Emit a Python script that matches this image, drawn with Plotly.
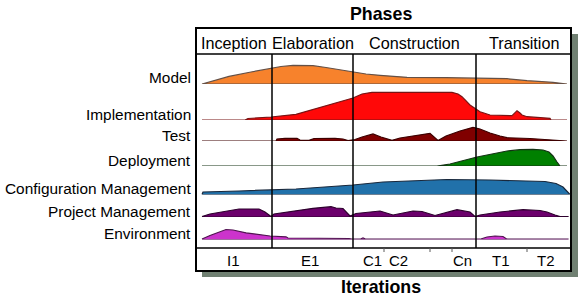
import plotly.graph_objects as go

# ---------------- data ----------------
disciplines = ["Model", "Implementation", "Test", "Deployment",
               "Configuration Management", "Project Management", "Environment"]
phases = ["Inception", "Elaboration", "Construction", "Transition"]
phase_bounds = [0, 76, 157, 280, 375]
iterations = ["I1", "E1", "C1", "C2", "Cn", "T1", "T2"]
iteration_t = [37, 114, 176, 202, 266, 305, 350]
iteration_marks = [188, 234, 256, 331]

model_t = [6, 20, 33, 55, 75, 85, 97, 117, 130, 143, 157, 170, 184, 211, 250, 281, 311, 331, 345, 357, 371]
model_h = [0, 4, 7.6, 12, 16, 17.5, 18.6, 18.3, 16.5, 14.3, 12, 10, 8.7, 6.7, 6.3, 6, 5.3, 3.3, 2.5, 1.7, 0]

impl_t = [6, 49, 52, 75, 100, 157, 166, 176, 256, 262, 266, 274, 284, 294, 316, 319, 321, 324, 326, 331, 354, 355, 371]
impl_h = [0, 0, 1.5, 3, 5.7, 22, 26, 27.7, 27.7, 26, 23.3, 15, 8.3, 5, 4.3, 8, 9.3, 7, 5, 3.3, 1.7, 0, 0]

test_t = [6, 80, 81, 89, 101, 104, 113, 118, 139, 147, 152, 159, 166, 177, 185, 192, 196, 204, 219, 234, 242,
          250, 264, 277, 284, 294, 304, 311, 334, 359, 369, 371]
test_h = [0, 0, 2, 2.7, 2.7, 1, 0.7, 2.5, 2.7, 2, 0.5, 1.5, 4, 7, 4, 1.5, 0.7, 3, 5, 7.7, 0.5,
          5, 10, 13.7, 12, 8, 5, 3.3, 2.5, 1.2, 0.5, 0]

deploy_t = [6, 241, 254, 281, 311, 324, 337, 347, 353, 357, 361, 364, 371]
deploy_h = [0, 0, 2, 9, 15, 16.3, 16.7, 16, 14, 10, 4, 0, 0]

config_t = [6, 7, 43, 100, 157, 187, 251, 294, 349, 360, 367, 372, 374]
config_h = [0, 2.5, 3.5, 5.5, 9.5, 12.5, 15, 14.5, 13, 11, 7.5, 2, 0]

pm_t = [6, 14, 43, 63, 69, 75, 78, 117, 135, 140, 147, 154, 160, 184, 197, 217, 226, 239, 261, 274, 279,
        284, 304, 327, 344, 351, 359, 364, 372]
pm_h = [0.5, 3, 8, 8, 5, 0.5, 3, 8.7, 10.3, 9, 8.5, 1, 3.5, 6, 2, 6, 5.5, 1.5, 7.3, 5, 0.5,
        2, 5, 7.3, 6.5, 5, 2, 0.5, 0.5]

env_t = [6, 14, 30, 37, 50, 74, 90, 92, 153, 156, 164, 167, 170, 284, 291, 299, 307, 311, 372]
env_h = [0.5, 4, 10, 9.5, 6.7, 3.5, 2.7, 1.5, 1, 0.3, 0.3, 1.5, 0.3, 0.3, 2.5, 3.5, 3, 0.3, 0.3]

profiles_t = [model_t, impl_t, test_t, deploy_t, config_t, pm_t, env_t]
profiles_h = [model_h, impl_h, test_h, deploy_h, config_h, pm_h, env_h]

# ---------------- styles / layout ----------------
fills = ["rgb(247,130,44)", "rgb(255,8,8)", "rgb(128,0,0)", "rgb(0,128,0)",
         "rgb(33,113,170)", "rgb(108,0,108)", "rgb(204,51,204)"]
outlines = ["rgb(100,80,70)", "rgb(120,20,20)", "rgb(60,0,0)", "rgb(20,50,20)",
            "rgb(25,40,60)", "rgb(45,0,45)", "rgb(80,20,80)"]

W, H = 580, 299
L, R, T, B = 196, 9, 28, 28
PH = H - T - B  # plot height in px
baselines_px = [84, 120, 141, 166, 194.5, 217, 239.5]
heights_px = [20, 30, 15, 18, 17, 12, 11]


def py(px):
    return (H - B - px) / PH


def pxx(px):
    return (px - L) / (W - L - R)


FONT = "Liberation Sans, Arial, sans-serif"

fig = go.Figure()
layout_axes = {}
for i, (name, t, h) in enumerate(zip(disciplines, profiles_t, profiles_h)):
    ax = "" if i == 0 else str(i + 1)
    xs = list(t) + list(t)[::-1]
    ys = list(h) + [0] * len(h)
    fig.add_trace(go.Scatter(
        x=xs, y=ys, mode="lines", fill="toself", fillcolor=fills[i],
        line=dict(color=outlines[i], width=1.2), name=name,
        xaxis="x", yaxis="y" + ax, hoverinfo="skip", showlegend=False))
    b = baselines_px[i]
    layout_axes["yaxis" + ax] = dict(
        domain=[py(b), py(b - heights_px[i])], range=[0, heights_px[i]],
        anchor="x", visible=False, fixedrange=True)
    fig.add_annotation(text=name, x=-0.008, xref="paper", xanchor="right",
                       y=py(b - 6), yref="paper", yanchor="middle", showarrow=False,
                       font=dict(family=FONT, size=15.4, color="black"))

shapes = []
# shadow
shapes.append(dict(type="rect", xref="paper", yref="paper",
                   x0=pxx(L + 6), x1=pxx(W - R + 7), y0=py(H - B + 6), y1=py(T + 6),
                   fillcolor="rgb(112,128,114)", line=dict(width=0), layer="below"))
# box
shapes.append(dict(type="rect", xref="paper", yref="paper", x0=0, x1=1, y0=0, y1=1,
                   fillcolor="white", line=dict(color="black", width=2), layer="below"))
# header and iteration row lines
for ypx in (54, 248):
    shapes.append(dict(type="line", xref="paper", yref="paper", x0=0, x1=1,
                       y0=py(ypx), y1=py(ypx), line=dict(color="black", width=1.5)))
# phase separators
for pb in phase_bounds[1:-1]:
    shapes.append(dict(type="line", xref="x", yref="paper", x0=pb, x1=pb,
                       y0=py(248), y1=py(54), line=dict(color="black", width=1.5)))
# small iteration marks
for m in iteration_marks:
    shapes.append(dict(type="line", xref="x", yref="paper", x0=m, x1=m,
                       y0=py(252), y1=py(248), line=dict(color="rgb(90,90,90)", width=1)))

# phase labels
for i, p in enumerate(phases):
    fig.add_annotation(text=p, x=(phase_bounds[i] + phase_bounds[i + 1]) / 2, xref="x",
                       y=py(43), yref="paper", showarrow=False, xanchor="center", yanchor="middle",
                       font=dict(family=FONT, size=16.2, color="black"))
# iteration labels
for it, tt in zip(iterations, iteration_t):
    fig.add_annotation(text=it, x=tt, xref="x", y=py(260), yref="paper", showarrow=False,
                       xanchor="center", yanchor="middle",
                       font=dict(family=FONT, size=15, color="black"))
# titles
fig.add_annotation(text="<b>Phases</b>", x=pxx(381), xref="paper", y=py(14), yref="paper",
                   showarrow=False, xanchor="center", yanchor="middle",
                   font=dict(family=FONT, size=17.8, color="black"))
fig.add_annotation(text="<b>Iterations</b>", x=pxx(381), xref="paper", y=py(287), yref="paper",
                   showarrow=False, xanchor="center", yanchor="middle",
                   font=dict(family=FONT, size=17.8, color="black"))

fig.update_layout(
    width=W, height=H, margin=dict(l=L, r=R, t=T, b=B),
    paper_bgcolor="white", plot_bgcolor="rgba(0,0,0,0)",
    xaxis=dict(range=[0, 375], visible=False, fixedrange=True),
    shapes=shapes, showlegend=False, **layout_axes)

fig.write_html("out.html", config={"displayModeBar": False})
